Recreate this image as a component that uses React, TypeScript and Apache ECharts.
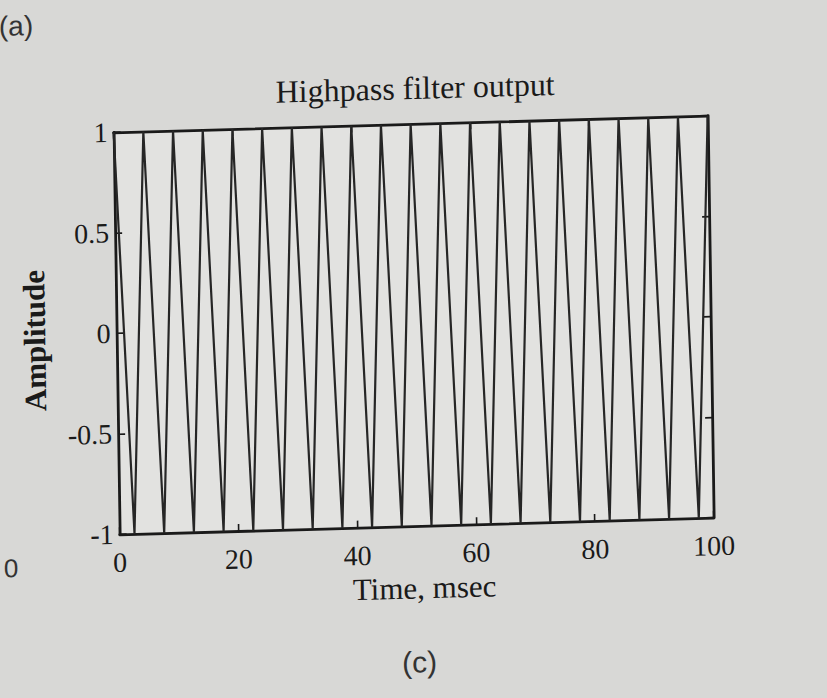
import React, { useEffect, useRef } from "react";
import * as echarts from "echarts";

// Time (msec) of each peak / trough of the drawn waveform
const times = [
  0, 2.5, 5, 7.5, 10, 12.5, 15, 17.5, 20, 22.5, 25, 27.5, 30, 32.5, 35, 37.5, 40,
  42.5, 45, 47.5, 50, 52.5, 55, 57.5, 60, 62.5, 65, 67.5, 70, 72.5, 75, 77.5, 80,
  82.5, 85, 87.5, 90, 92.5, 95, 97.5, 100,
];
// Amplitude at those times
const amplitude = [
  1, -1, 1, -1, 1, -1, 1, -1, 1, -1, 1, -1, 1, -1, 1, -1, 1, -1, 1, -1, 1, -1, 1,
  -1, 1, -1, 1, -1, 1, -1, 1, -1, 1, -1, 1, -1, 1, -1, 1, -1, 1,
];
const xTicks = [0, 20, 40, 60, 80, 100];
const yTicks = [-1, -0.5, 0, 0.5, 1];

const title = "Highpass filter output";
const xName = "Time, msec";
const yName = "Amplitude";

export default function App() {
  const ref = useRef<HTMLDivElement>(null);

  useEffect(() => {
    if (!ref.current) return;
    const chart = echarts.init(ref.current, undefined, { renderer: "svg" });
    const serif = "'Liberation Serif', 'DejaVu Serif', serif";
    const ink = "#1a1a1a";
    const data = times.map((t, i) => [t, amplitude[i]]);
    const axisLine = { show: true, onZero: false, lineStyle: { color: ink, width: 2.8 } };
    const tick = { show: true, inside: true, length: 7, lineStyle: { color: ink, width: 1.6 } };
    chart.setOption({
      animation: false,
      backgroundColor: "transparent",
      grid: {
        left: 117,
        top: 124,
        width: 594,
        height: 402,
        show: true,
        backgroundColor: "#e2e2e0",
        borderWidth: 0,
      },
      xAxis: [
        {
          type: "value",
          position: "bottom",
          min: xTicks[0],
          max: xTicks[xTicks.length - 1],
          interval: 20,
          axisLine,
          axisTick: tick,
          splitLine: { show: false },
          axisLabel: {
            margin: 14,
            fontFamily: serif,
            fontSize: 28,
            color: ink,
          },
        },
        {
          type: "value",
          position: "top",
          min: xTicks[0],
          max: xTicks[xTicks.length - 1],
          interval: 20,
          axisLine,
          axisTick: tick,
          splitLine: { show: false },
          axisLabel: { show: false },
        },
      ],
      yAxis: [
        {
          type: "value",
          position: "left",
          min: yTicks[0],
          max: yTicks[yTicks.length - 1],
          interval: 0.5,
          axisLine,
          axisTick: tick,
          splitLine: { show: false },
          axisLabel: {
            margin: 6,
            fontFamily: serif,
            fontSize: 28,
            color: ink,
          },
        },
        {
          type: "value",
          position: "right",
          min: yTicks[0],
          max: yTicks[yTicks.length - 1],
          interval: 0.5,
          axisLine,
          axisTick: tick,
          splitLine: { show: false },
          axisLabel: { show: false },
        },
      ],
      series: [
        {
          type: "line",
          data,
          xAxisIndex: 0,
          yAxisIndex: 0,
          showSymbol: false,
          clip: false,
          lineStyle: { color: "#262626", width: 2.2 },
        },
      ],
      graphic: [
        {
          type: "text",
          x: 419,
          y: 88,
          style: {
            text: title,
            font: `32px ${serif}`,
            fill: ink,
            align: "center",
            verticalAlign: "middle",
          },
        },
        {
          type: "text",
          x: 421,
          y: 588,
          style: {
            text: xName,
            font: `31px ${serif}`,
            fill: ink,
            align: "center",
            verticalAlign: "middle",
          },
        },
        {
          type: "text",
          x: 35,
          y: 330,
          rotation: Math.PI / 2,
          style: {
            text: yName,
            font: `bold 31px ${serif}`,
            fill: ink,
            align: "center",
            verticalAlign: "middle",
          },
        },
        {
          type: "text",
          x: 21,
          y: 15,
          style: {
            text: "(a)",
            font: "28px 'Liberation Sans', Arial, sans-serif",
            fill: "#333",
            align: "center",
            verticalAlign: "middle",
          },
        },
        {
          type: "text",
          x: 8,
          y: 557,
          style: {
            text: "0",
            font: "26px 'Liberation Sans', Arial, sans-serif",
            fill: "#333",
            align: "center",
            verticalAlign: "middle",
          },
        },
        {
          type: "text",
          x: 415,
          y: 662,
          style: {
            text: "(c)",
            font: "30px 'Liberation Sans', Arial, sans-serif",
            fill: "#333",
            align: "center",
            verticalAlign: "middle",
          },
        },
      ],
    });
    return () => chart.dispose();
  }, []);

  return (
    <div
      style={{
        position: "fixed",
        left: 0,
        top: 0,
        width: 827,
        height: 698,
        background: "#d8d8d6",
        overflow: "hidden",
      }}
    >
      <div
        ref={ref}
        style={{
          position: "absolute",
          left: 0,
          top: 0,
          width: 827,
          height: 698,
          transform: "matrix(1, -0.028, 0.015, 1, 0, 0)",
          transformOrigin: "50% 50%",
        }}
      />
    </div>
  );
}
